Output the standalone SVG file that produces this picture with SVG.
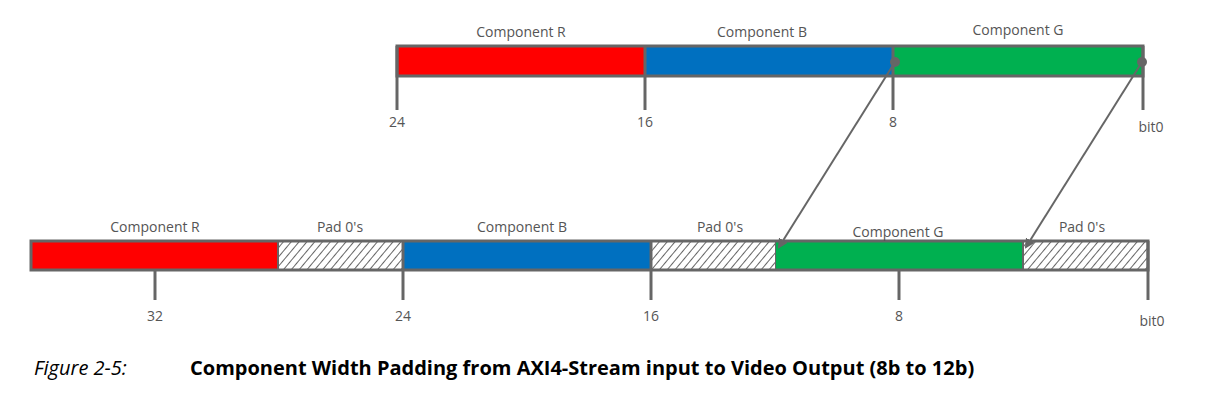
<svg xmlns="http://www.w3.org/2000/svg" width="1220" height="401" viewBox="0 0 1220 401">
<style>
.lbl{font-family:"Open Sans","Liberation Sans",sans-serif;font-size:14px;fill:#555;text-anchor:middle}
.frame{fill:none;stroke:#666;stroke-width:3}
.tick{stroke:#666;stroke-width:3}
.conn{stroke:#666;stroke-width:2;fill:none}
.pad{fill:url(#hatch);stroke:#666;stroke-width:2}
</style>
<defs>
<pattern id="hatch" width="6" height="6" patternUnits="userSpaceOnUse" patternTransform="rotate(40)">
<rect width="6" height="6" fill="#fff"/><line x1="0" y1="0" x2="0" y2="6" stroke="#333" stroke-width="1.5"/>
</pattern>
<marker id="arr" markerWidth="10" markerHeight="10" refX="8" refY="5" orient="auto" markerUnits="userSpaceOnUse"><path d="M0,0 L10,5 L0,10 z" fill="#666"/></marker>
<marker id="dot" markerWidth="10" markerHeight="10" refX="5" refY="5" markerUnits="userSpaceOnUse"><circle cx="5" cy="5" r="5" fill="#666"/></marker>
</defs>
<g id="top">
<rect x="397" y="46" width="248" height="30" fill="#ff0000"/>
<rect x="645" y="46" width="248" height="30" fill="#0070c0"/>
<rect x="893" y="46" width="250" height="30" fill="#00b050"/>
<rect x="397" y="46" width="746" height="30" class="frame"/>
<line x1="397" y1="46" x2="397" y2="110" class="tick"/>
<line x1="645" y1="46" x2="645" y2="110" class="tick"/>
<line x1="893" y1="46" x2="893" y2="110" class="tick"/>
<line x1="1143" y1="46" x2="1143" y2="110" class="tick"/>
<text x="521" y="37" class="lbl">Component R</text>
<text x="762" y="37" class="lbl">Component B</text>
<text x="1018" y="35" class="lbl">Component G</text>
<text x="397" y="127" class="lbl">24</text>
<text x="645" y="127" class="lbl">16</text>
<text x="893" y="127" class="lbl">8</text>
<text x="1151" y="132" class="lbl">bit0</text>
</g>
<g id="bottom">
<rect x="31" y="241" width="247" height="29" fill="#ff0000"/>
<rect x="278" y="241" width="125" height="29" class="pad"/>
<rect x="403" y="241" width="248" height="29" fill="#0070c0"/>
<rect x="651" y="241" width="125" height="29" class="pad"/>
<rect x="776" y="241" width="247" height="29" fill="#00b050"/>
<rect x="1023" y="241" width="125" height="29" class="pad"/>
<rect x="31" y="241" width="1117" height="29" class="frame"/>
<line x1="155" y1="270" x2="155" y2="300" class="tick"/>
<line x1="403" y1="241" x2="403" y2="300" class="tick"/>
<line x1="651" y1="241" x2="651" y2="300" class="tick"/>
<line x1="899" y1="270" x2="899" y2="300" class="tick"/>
<line x1="1148" y1="241" x2="1148" y2="300" class="tick"/>
<text x="155" y="232" class="lbl">Component R</text>
<text x="340" y="232" class="lbl">Pad 0's</text>
<text x="522" y="232" class="lbl">Component B</text>
<text x="720" y="232" class="lbl">Pad 0's</text>
<text x="898" y="237" class="lbl">Component G</text>
<text x="1082" y="232" class="lbl">Pad 0's</text>
<text x="155" y="321" class="lbl">32</text>
<text x="403" y="321" class="lbl">24</text>
<text x="651" y="321" class="lbl">16</text>
<text x="899" y="321" class="lbl">8</text>
<text x="1152" y="326" class="lbl">bit0</text>
</g>
<g id="connectors">
<line x1="895" y1="62" x2="779" y2="247" class="conn" marker-start="url(#dot)" marker-end="url(#arr)"/>
<line x1="1142" y1="62" x2="1026" y2="247" class="conn" marker-start="url(#dot)" marker-end="url(#arr)"/>
</g>
<g id="caption" font-family="Open Sans,Liberation Sans,sans-serif" font-size="20" fill="#000">
<text x="34" y="375" font-style="italic">Figure 2-5:</text>
<text x="190" y="375" font-weight="bold">Component Width Padding from AXI4-Stream input to Video Output (8b to 12b)</text>
</g>
</svg>
